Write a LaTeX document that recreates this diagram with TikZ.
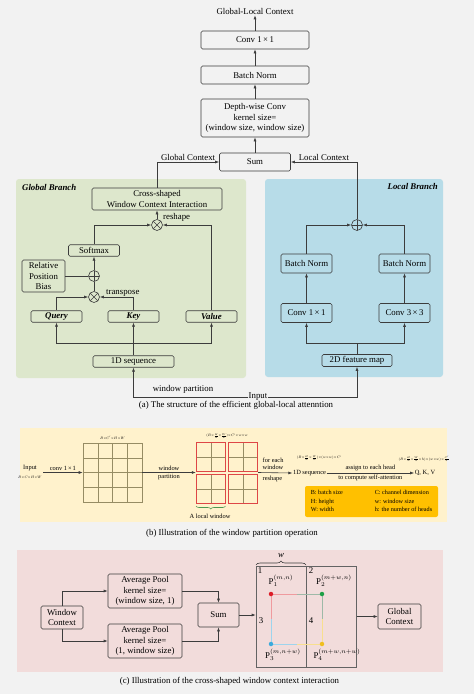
\documentclass[tikz,border=0pt]{standalone}
\usepackage{amsmath}
\usepackage{amssymb}
\usepackage{graphicx}
\usepackage{fontspec}
\setmainfont{Liberation Serif}
\usepackage{tikz}
\usetikzlibrary{arrows.meta,calc,decorations.pathreplacing}

\definecolor{pagebg}{RGB}{242,242,242}
\definecolor{linegray}{RGB}{60,60,60}
\definecolor{globalbg}{RGB}{221,231,204}
\definecolor{localbg}{RGB}{183,220,232}
\definecolor{partbbg}{RGB}{255,242,204}
\definecolor{legendbg}{RGB}{255,192,0}
\definecolor{partcbg}{RGB}{242,220,219}
\definecolor{gridline}{RGB}{150,140,100}
\definecolor{winred}{RGB}{222,70,70}
\definecolor{ptred}{RGB}{220,30,40}
\definecolor{ptgreen}{RGB}{30,160,70}
\definecolor{ptblue}{RGB}{60,170,220}
\definecolor{ptyellow}{RGB}{240,190,30}

\newcommand{\tm}{{\times}}
\newcommand{\dimtxt}[1]{\scalebox{0.5}{$#1$}}

\tikzset{
  blk/.style={draw=linegray, rounded corners=1.5pt, line width=0.6pt, inner sep=1pt, align=center,
    font=\fontsize{8.8}{10.5}\selectfont},
  lbl/.style={inner sep=1pt, align=center, font=\fontsize{8.8}{10}\selectfont},
  smalllbl/.style={inner sep=0.5pt, align=center, font=\fontsize{6.4}{7.2}\selectfont},
  dimlbl/.style={inner sep=0pt, font=\fontsize{7}{8}\selectfont},
  conn/.style={draw=linegray, line width=0.6pt},
  arr/.style={conn, -{Latex[length=4pt,width=3pt]}},
  oplusnd/.style={circle, draw=linegray, line width=0.6pt, minimum size=11pt, inner sep=0pt,
    path picture={\draw[linegray, line width=0.6pt]
      (path picture bounding box.north) -- (path picture bounding box.south)
      (path picture bounding box.west) -- (path picture bounding box.east);}},
  otimesnd/.style={circle, draw=linegray, line width=0.6pt, minimum size=11pt, inner sep=0pt,
    path picture={\draw[linegray, line width=0.6pt]
      (path picture bounding box.north west) -- (path picture bounding box.south east)
      (path picture bounding box.south west) -- (path picture bounding box.north east);}},
  ptdot/.style={circle, inner sep=0pt, minimum size=4.5pt},
}

\begin{document}
\begin{tikzpicture}[x=1pt,y=1pt,yscale=-1]
\useasboundingbox (0,0) rectangle (474,694);
\fill[pagebg] (0,0) rectangle (474,694);

%Shape: Rectangle [global branch]
\fill[globalbg, rounded corners=3pt] (16,179) rectangle (246,378);
%Shape: Rectangle [local branch]
\fill[localbg, rounded corners=3pt] (265,179) rectangle (443,377);
%Shape: Rectangle [part b]
\fill[partbbg] (20,428) rectangle (447,522);
%Shape: Rectangle [part c]
\fill[partcbg] (17,550) rectangle (443,672);

% ---------------- (a) top
\node[lbl] (glc) at (255,11) {Global-Local Context};
\node[blk, minimum width=108pt, minimum height=18pt] (conv11) at (255,40) {Conv 1\,×\,1};
\node[blk, minimum width=108pt, minimum height=18pt] (bn) at (255,75) {Batch Norm};
\node[blk, minimum width=108pt, minimum height=38pt] (dwconv) at (255,118) {Depth-wise Conv\\kernel size=\\(window size, window size)};
\node[blk, minimum width=71pt, minimum height=18pt] (sum) at (255,162) {Sum};

\draw[arr] (conv11.north) -- (glc.south);
\draw[arr] (bn.north) -- (conv11.south);
\draw[arr] (dwconv.north) -- (bn.south);
\draw[arr] (sum.north) -- (dwconv.south);

% ---------------- (a) global branch
\node[lbl, anchor=west] (gbtitle) at (21,187) {\textbf{\textit{Global Branch}}};
\node[blk, minimum width=130pt, minimum height=22pt] (cswci) at (157,199) {Cross-shaped\\Window Context Interaction};
\node[otimesnd] (mulA) at (157,225) {};
\node[lbl, anchor=west] (reshapelbl) at (162,217) {reshape};
\node[blk, minimum width=51pt, minimum height=11.5pt] (softmax) at (94,250.5) {Softmax};
\node[blk, minimum width=43pt, minimum height=32pt] (rpb) at (43.5,276) {Relative\\Position\\Bias};
\node[oplusnd] (addB) at (94,276) {};
\node[otimesnd] (mulB) at (94,297) {};
\node[lbl, anchor=west] (transposelbl) at (105,293) {transpose};
\node[blk, minimum width=51pt, minimum height=11.5pt] (query) at (56.5,316.5) {\textbf{\textit{Query}}};
\node[blk, minimum width=51pt, minimum height=11.5pt] (key) at (133.5,316.5) {\textbf{\textit{Key}}};
\node[blk, minimum width=51pt, minimum height=11.5pt] (value) at (211.5,316.5) {\textbf{\textit{Value}}};
\node[blk, minimum width=81pt, minimum height=11.5pt] (seq1d) at (133.5,361.5) {1D sequence};
\coordinate (splitG) at (133.5,343);

\draw[arr] (seq1d.north) -- (key.south);
\draw[arr] (splitG) -| (query.south);
\draw[arr] (splitG) -| (value.south);
\draw[arr] (query.north) |- (mulB.west);
\draw[arr] (key.north) |- (mulB.east);
\draw[conn] (mulB.north) -- (addB.south);
\draw[conn] (rpb.east) -- (addB.west);
\draw[arr] (addB.north) -- (softmax.south);
\draw[arr] (softmax.north) |- (mulA.west);
\draw[arr] (value.north) |- (mulA.east);
\draw[arr] (mulA.north) -- (cswci.south);
\draw[arr] (cswci.north) |- (sum.west) node[lbl, pos=0.75, above] (gctxlbl) {Global Context};

% ---------------- (a) local branch
\node[lbl, anchor=east] (lbtitle) at (439,186) {\textbf{\textit{Local Branch}}};
\node[oplusnd] (addL) at (357,225) {};
\node[blk, minimum width=51pt, minimum height=19pt] (bnL) at (306.5,263.5) {Batch Norm};
\node[blk, minimum width=51pt, minimum height=19pt] (bnR) at (404.5,263.5) {Batch Norm};
\node[blk, minimum width=51pt, minimum height=19pt] (conv1) at (306.5,313) {Conv 1\,×\,1};
\node[blk, minimum width=51pt, minimum height=19pt] (conv3) at (404.5,313) {Conv 3\,×\,3};
\node[blk, minimum width=70pt, minimum height=12pt] (fmap) at (357,360.5) {2D feature map};
\coordinate (splitL) at (357,343);

\draw[conn] (fmap.north) -- (splitL);
\draw[arr] (splitL) -| (conv1.south);
\draw[arr] (splitL) -| (conv3.south);
\draw[arr] (conv1.north) -- (bnL.south);
\draw[arr] (conv3.north) -- (bnR.south);
\draw[arr] (bnL.north) |- (addL.west);
\draw[arr] (bnR.north) |- (addL.east);
\draw[arr] (addL.north) |- (sum.east) node[lbl, pos=0.75, above] (lctxlbl) {Local Context};

% ---------------- (a) input
\node[lbl] (inp) at (258,397) {Input};
\node[lbl] (wplbl) at (183,389) {window partition};
\draw[arr] (inp.west) -| (seq1d.south);
\draw[arr] (inp.east) -| (fmap.south);
\node[lbl] (capa) at (236,405) {(a) The structure of the efficient global-local attenntion};

% ---------------- (b) window partition
\node[smalllbl] (inB) at (30,468) {Input};
\node[dimlbl] (inBdim) at (30,478) {\dimtxt{B\tm C\tm H\tm W}};
\coordinate (inBout) at (43,472.5);
\node[draw=gridline, line width=0.6pt, minimum size=59pt, inner sep=0pt] (gridA) at (112.5,472.5) {};
\foreach \k in {1,2,3} {
  \draw[gridline, line width=0.5pt] (83+14.75*\k,443) -- (83+14.75*\k,502);
  \draw[gridline, line width=0.5pt] (83,443+14.75*\k) -- (142,443+14.75*\k);
}
\node[dimlbl] (gridAdim) at (112.5,438) {\dimtxt{B\tm C'\tm H\tm W}};
\draw[arr] (inBout) -- (gridA.west) node[smalllbl, midway, above=1pt] (convlbl) {conv 1\,×\,1};

\node[minimum width=62pt, minimum height=61pt, inner sep=0pt] (wins) at (227,472.5) {};
\foreach \wx in {196,228} {
  \foreach \wy in {442,474} {
    \draw[gridline, line width=0.5pt] (\wx+14.75,\wy) -- (\wx+14.75,\wy+29.5) (\wx,\wy+14.75) -- (\wx+29.5,\wy+14.75);
    \draw[winred, line width=0.8pt] (\wx,\wy) rectangle ++(29.5,29.5);
  }
}
\node[dimlbl] (winsdim) at (227,436) {\dimtxt{(B\tm\frac{H}{w}\tm\frac{W}{w})\tm C'\tm w\tm w}};
\draw[arr] (gridA.east) -- (wins.west) node[smalllbl, midway, above=1pt] (wplblB) {window} node[smalllbl, midway, below=1pt] (wplblC) {partition};
\draw[decorate, decoration={brace, amplitude=3pt, mirror}, ptgreen!60!gridline, line width=0.6pt] (196,506) -- (225.5,506);
\node[smalllbl] (localwin) at (210,516) {A local window};

\node[smalllbl] (seqB) at (309.5,473) {1D sequence};
\node[dimlbl] (seqBdim) at (319,458) {\dimtxt{(B\tm\frac{H}{w}\tm\frac{W}{w})\tm(w\tm w)\tm C'}};
\draw[arr] (wins.east) -- (seqB.west);
\node[smalllbl, align=left, anchor=south west] (feLbl) at (262,470.5) {for each\\window};
\node[smalllbl, anchor=north west] (rsLbl) at (262,475) {reshape};

\node[smalllbl] (qkv) at (425,473) {Q, K, V};
\node[dimlbl] (qkvdim) at (424,459) {\dimtxt{(B\tm\frac{H}{w}\tm\frac{W}{w}\tm h)\tm(w\tm w)\tm\frac{C'}{h}}};
\draw[arr] (seqB.east) -- (qkv.west) node[smalllbl, midway, above=1pt] (asLbl) {assign to each head} node[smalllbl, midway, below=1pt] (tcLbl) {to compute self-attention};

\node[fill=legendbg, rounded corners=2pt, minimum width=133pt, minimum height=31pt, inner sep=0pt,
  font=\fontsize{6.2}{8.5}\selectfont] (legend) at (371.5,501.5)
  {\begin{tabular}{@{}p{64pt}@{}l@{}}B: batch size & C: channel dimension\\ H: height & w: window size\\ W: width & h: the number of heads\end{tabular}};
\node[lbl] (capb) at (232,533) {(b) Illustration of the window partition operation};

% ---------------- (c) cross-shaped interaction
\node[blk, minimum width=42pt, minimum height=23pt] (wctx) at (62,617.5) {Window\\Context};
\node[blk, minimum width=74pt, minimum height=34pt] (avg1) at (145,591) {Average Pool\\kernel size=\\(window size, 1)};
\node[blk, minimum width=74pt, minimum height=34pt] (avg2) at (145,641) {Average Pool\\kernel size=\\(1, window size)};
\node[blk, minimum width=41pt, minimum height=24pt] (sumc) at (218.5,615) {Sum};
\node[draw=linegray!80, line width=0.6pt, minimum width=100pt, minimum height=101pt, inner sep=0pt] (crossbox) at (306,616.5) {};
\node[blk, minimum width=43pt, minimum height=25pt] (gctx) at (399.5,616.5) {Global\\Context};

\draw[arr] (wctx.north) |- (avg1.west);
\draw[arr] (wctx.south) |- (avg2.west);
\draw[arr] (avg1.east) -| (sumc.north);
\draw[arr] (avg2.east) -| (sumc.south);
\draw[arr] (sumc.east) -- (crossbox.west |- sumc.east);
\draw[arr] (crossbox.east |- gctx.west) ++(1,0) -- (gctx.west);

\draw[linegray!80, line width=0.6pt] (crossbox.north) -- (crossbox.south);
\draw[decorate, decoration={brace, amplitude=4pt}, linegray, line width=0.6pt] (256,565) -- (306,565);
\node[lbl] (wlbl) at (281,556) {\textit{w}};
\node[lbl] (n1) at (260,571) {1};
\node[lbl] (n2) at (311,571) {2};
\node[lbl] (n3) at (261,621) {3};
\node[lbl] (n4) at (311,621) {4};

\coordinate (p1c) at (271,594);
\coordinate (p2c) at (322,594);
\coordinate (p3c) at (271,644);
\coordinate (p4c) at (322,644);
\draw[ptred!45, line width=1pt] (p1c) -- ($(p1c)!0.5!(p2c)$);
\draw[ptgreen!35!gray!60, line width=1pt] ($(p1c)!0.5!(p2c)$) -- (p2c);
\draw[ptred!45, line width=1pt] (p1c) -- ($(p1c)!0.5!(p3c)$);
\draw[ptblue!50, line width=1pt] ($(p1c)!0.5!(p3c)$) -- (p3c);
\draw[ptblue!50, line width=1pt] (p3c) -- ($(p3c)!0.5!(p4c)$);
\draw[ptyellow!50, line width=1pt] ($(p3c)!0.5!(p4c)$) -- (p4c);
\draw[ptgreen!35!gray!60, line width=1pt] (p2c) -- ($(p2c)!0.5!(p4c)$);
\draw[ptyellow!50, line width=1pt] ($(p2c)!0.5!(p4c)$) -- (p4c);
\node[ptdot, fill=ptred] (p1) at (p1c) {};
\node[ptdot, fill=ptgreen] (p2) at (p2c) {};
\node[ptdot, fill=ptblue] (p3) at (p3c) {};
\node[ptdot, fill=ptyellow] (p4) at (p4c) {};
\node[lbl] (lp1) at (281,581) {P$_1^{(m,n)}$};
\node[lbl] (lp2) at (334,581) {P$_2^{(m+w,n)}$};
\node[lbl] (lp3) at (283,655) {P$_3^{(m,n+w)}$};
\node[lbl] (lp4) at (337,655) {P$_4^{(m+w,n+w)}$};
\node[lbl] (capc) at (229.5,681) {(c) Illustration of the cross-shaped window context interaction};

\end{tikzpicture}
\end{document}
